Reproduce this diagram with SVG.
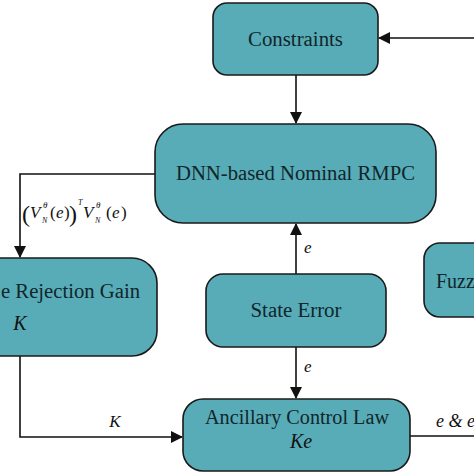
<svg xmlns="http://www.w3.org/2000/svg" width="474" height="474" viewBox="0 0 474 474">
<style>
.box{fill:#58acb8;stroke:#1a1a1a;stroke-width:1.6}
.t{font-family:"Liberation Serif","Times New Roman",serif;font-size:20px;fill:#10262a;text-anchor:middle}
.i{font-family:"Liberation Serif","Times New Roman",serif;font-style:italic;fill:#111}
.r{font-family:"Liberation Serif","Times New Roman",serif;fill:#111}
.c{fill:none;stroke:#111;stroke-width:1.6}
</style>
<defs>
<marker id="ah" markerUnits="userSpaceOnUse" markerWidth="12" markerHeight="12" refX="11" refY="6" orient="auto">
<path d="M0,0 L12,6 L0,12 Z" fill="#111"/>
</marker>
</defs>
<rect width="474" height="474" fill="#fff"/>
<g id="connectors">
<line class="c" x1="474" y1="38" x2="379" y2="38" marker-end="url(#ah)"/>
<line class="c" x1="296" y1="75" x2="296" y2="123" marker-end="url(#ah)"/>
<polyline class="c" points="155,174 20,174 20,257" marker-end="url(#ah)"/>
<line class="c" x1="296" y1="274" x2="296" y2="224" marker-end="url(#ah)"/>
<line class="c" x1="296" y1="347" x2="296" y2="398" marker-end="url(#ah)"/>
<polyline class="c" points="20,356 20,437 182,437" marker-end="url(#ah)"/>
<line class="c" x1="410" y1="436" x2="474" y2="436"/>
<g id="labels">
<text class="i" x="304" y="253" font-size="17">e</text>
<text class="i" x="304" y="372" font-size="17">e</text>
<text class="i" x="115" y="427" font-size="17" text-anchor="middle">K</text>
<text class="i" x="436" y="427" font-size="18">e &amp; e</text>
<text class="r" font-size="24" x="22" y="222">(</text>
<text class="i" font-size="17" x="30" y="218">V</text>
<text class="i" font-size="9" x="43" y="208">θ</text>
<text class="i" font-size="8" x="42" y="223">N</text>
<text class="r" font-size="17" x="50" y="218">(</text>
<text class="i" font-size="17" x="56" y="218">e</text>
<text class="r" font-size="17" x="64" y="218">)</text>
<text class="r" font-size="24" x="69" y="222">)</text>
<text class="i" font-size="8" x="78" y="205">T</text>
<text class="i" font-size="17" x="83" y="218">V</text>
<text class="i" font-size="9" x="96" y="208">θ</text>
<text class="i" font-size="8" x="95" y="223">N</text>
<text class="r" font-size="17" x="106" y="218">(</text>
<text class="i" font-size="17" x="112" y="218">e</text>
<text class="r" font-size="17" x="121" y="218">)</text>
</g>
</g>
<g id="constraints">
<rect class="box" x="213" y="3" width="165" height="72" rx="14"/>
<text class="t" x="295.5" y="46" textLength="95" lengthAdjust="spacingAndGlyphs">Constraints</text>
</g>
<g id="dnn">
<rect class="box" x="155" y="124" width="281" height="99" rx="28"/>
<text class="t" x="295.5" y="180" textLength="239" lengthAdjust="spacingAndGlyphs">DNN-based Nominal RMPC</text>
</g>
<g id="rejection">
<rect class="box" x="-120" y="258" width="277" height="98" rx="25"/>
<text class="t" x="1" y="298" style="text-anchor:start" textLength="139" lengthAdjust="spacingAndGlyphs">e Rejection Gain</text>
<text class="i" x="20" y="330" font-size="20" text-anchor="middle">K</text>
</g>
<g id="state-error">
<rect class="box" x="206" y="274" width="180" height="73" rx="17"/>
<text class="t" x="296" y="317" textLength="91" lengthAdjust="spacingAndGlyphs">State Error</text>
</g>
<g id="fuzzy">
<rect class="box" x="424" y="243" width="100" height="74" rx="16"/>
<text class="t" x="436" y="288" style="text-anchor:start">Fuzz</text>
</g>
<g id="ancillary">
<rect class="box" x="183" y="399" width="227" height="72" rx="20"/>
<text class="t" x="297" y="424" textLength="184" lengthAdjust="spacingAndGlyphs">Ancillary Control Law</text>
<text class="i" x="301" y="448" font-size="20" text-anchor="middle">Ke</text>
</g>
</svg>
